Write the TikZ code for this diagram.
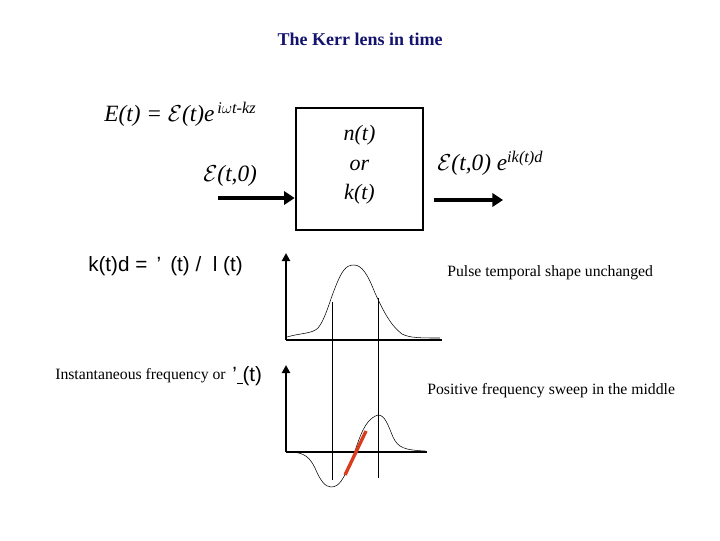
\documentclass[tikz,border=0pt]{standalone}
\usepackage{fontspec}
\setmainfont{Liberation Serif}
\setsansfont{Liberation Sans}
\usetikzlibrary{arrows.meta}
\begin{document}
\begin{tikzpicture}[x=0.75pt,y=-0.75pt,
  big/.style={font=\fontsize{17.5}{20}\selectfont\itshape,inner sep=0pt},
  lbl/.style={font=\fontsize{11.8}{14}\selectfont,inner sep=0pt},
  sfl/.style={font=\sffamily\fontsize{15.5}{18}\selectfont,inner sep=0pt},
  thickarrow/.style={line width=2.6pt,-{Triangle[length=8pt,width=10pt]}},
  axis/.style={line width=2pt},
  axisarr/.style={line width=2pt,{Triangle[length=6pt,width=6pt]}-}]
\useasboundingbox (0,0) rectangle (720,540);
\node[inner sep=0pt,font=\bfseries\fontsize{13.5}{15}\selectfont,text={rgb,255:red,20;green,20;blue,110}] (title) at (360,39) {The Kerr lens in time};
\node[big,anchor=west] (eq) at (104,114) {E(t) = $\mathcal{E}$(t)e\textsuperscript{\,i$\omega$t-kz}};
\node[draw,line width=2pt,minimum width=127*0.75pt,minimum height=122*0.75pt,inner sep=0pt] (box) at (359.5,169) {};
\node[big,align=center,font=\fontsize{16.5}{22}\selectfont\itshape] (nk) at (359.5,165) {n(t)\\ or\\ k(t)};
\node[big,anchor=west] (ein) at (203,176) {$\mathcal{E}$(t,0)};
\node[big,anchor=west] (eout) at (437,163) {$\mathcal{E}$(t,0) e\textsuperscript{ik(t)d}};
\coordinate (a1s) at (218,198);
\draw[thickarrow] (a1s) -- (box.west |- a1s);
\coordinate (a2s) at (434,200);
\coordinate (a2e) at (503,200);
\draw[thickarrow] (a2s) -- (a2e);
\node[sfl,anchor=west] (kd) at (88,266) {k(t)d =\ \,'\, (t) /\ \ l (t)};
\node[lbl,anchor=west] (inst) at (55,376) {Instantaneous frequency or};
\node[sfl,anchor=west] (wp) at (232,376) {'\underline{\ }(t)};
\node[lbl,anchor=west] (pulse) at (447,273) {Pulse temporal shape unchanged};
\node[lbl,anchor=west] (pos) at (427,391) {Positive frequency sweep in the middle};
% plot 1
\coordinate (o1) at (286,340);
\coordinate (y1) at (286,253);
\coordinate (x1) at (442,340);
\draw[axisarr] (y1) -- (o1);
\draw[axis] (o1) -- (x1);
\draw[thin] (287,337) .. controls (300,333) and (312,334) .. (318,328)
  .. controls (325,320) and (330,300) .. (335,288)
  .. controls (342,270) and (346,265) .. (354,265)
  .. controls (362,265) and (368,275) .. (375,293)
  .. controls (383,310) and (390,325) .. (402,334)
  .. controls (410,338) and (420,338) .. (440,338);
% plot 2
\coordinate (o2) at (286,452);
\coordinate (y2) at (286,365);
\coordinate (x2) at (427,452);
\draw[axisarr] (y2) -- (o2);
\draw[axis] (o2) -- (x2);
\draw[thin] (289,452) .. controls (305,452) and (310,458) .. (315,468)
  .. controls (320,480) and (325,487) .. (331,487)
  .. controls (340,487) and (343,478) .. (350,465)
  .. controls (358,445) and (362,420) .. (378,415)
  .. controls (385,415) and (388,425) .. (393,437)
  .. controls (398,448) and (405,450) .. (425,451);
\coordinate (r1) at (345,475);
\coordinate (r2) at (366,431);
\draw[line width=2.5pt,color={rgb,255:red,220;green,60;blue,30}] (r1) -- (r2);
% verticals
\coordinate (v1t) at (332,302); \coordinate (v1b) at (332,480);
\coordinate (v2t) at (378,298); \coordinate (v2b) at (378,478);
\draw[thin] (v1t) -- (v1b);
\draw[thin] (v2t) -- (v2b);
\end{tikzpicture}
\end{document}
